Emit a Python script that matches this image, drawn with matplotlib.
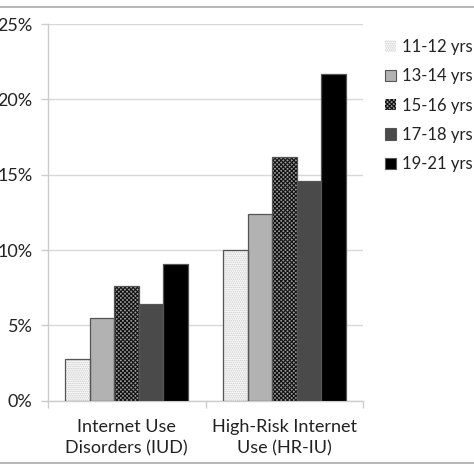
import numpy as np
import matplotlib
matplotlib.use("Agg")
import matplotlib.pyplot as plt
from matplotlib.lines import Line2D
from matplotlib.patches import Patch

categories = ["Internet Use\nDisorders (IUD)", "High-Risk Internet\nUse (HR-IU)"]
age_groups = ["11-12 yrs", "13-14 yrs", "15-16 yrs", "17-18 yrs", "19-21 yrs"]
v_11_12 = [2.8, 10.0]
v_13_14 = [5.5, 12.4]
v_15_16 = [7.6, 16.2]
v_17_18 = [6.4, 14.6]
v_19_21 = [9.1, 21.7]
yticks = [0, 5, 10, 15, 20, 25]

series = [v_11_12, v_13_14, v_15_16, v_17_18, v_19_21]
# face, hatch, hatch colour
styles = [
    ("white", "........", "#c4c4c4"),
    ("#b2b2b2", None, None),
    ("#9a9a9a", "xxxxxxxx", "#111111"),
    ("#4a4a4a", None, None),
    ("black", None, None),
]

plt.rcParams["font.family"] = ["Lato", "DejaVu Sans"]
plt.rcParams["hatch.linewidth"] = 0.8

fig = plt.figure(figsize=(4.74, 4.74), dpi=100)
ax = fig.add_axes([0.1006, 0.1546, 0.666, 0.7944])

x = np.arange(len(categories))
w = 0.155
for i, vals in enumerate(series):
    face, hatch, hc = styles[i]
    pos = x + (i - 2) * w
    if hatch:
        ax.bar(pos, vals, w, color=face, edgecolor=hc, hatch=hatch, linewidth=0, zorder=3)
        ax.bar(pos, vals, w, fill=False, edgecolor="#555555", linewidth=0.9, zorder=4)
    else:
        ax.bar(pos, vals, w, color=face, edgecolor="#555555", linewidth=0.9, zorder=3)

ax.set_xlim(-0.5, 1.5)
ax.set_ylim(0, 25)
ax.set_yticks(yticks)
ax.set_yticklabels([f"{t}%" for t in yticks], fontsize=13, color="#222222")
ax.set_xticks(x)
ax.set_xticklabels(categories, fontsize=13, color="#222222", linespacing=1.45)
ax.set_xticks([-0.5, 0.5, 1.5], minor=True)
ax.tick_params(axis="x", which="major", length=0, pad=13)
ax.tick_params(axis="x", which="minor", length=5, color="#cccccc", width=1)
ax.tick_params(axis="y", length=5, color="#cccccc", width=1, pad=6)
ax.yaxis.grid(True, color="#d9d9d9", linewidth=1, zorder=0)
ax.set_axisbelow(True)
for s in ["top", "right"]:
    ax.spines[s].set_visible(False)
for s in ["left", "bottom"]:
    ax.spines[s].set_color("#cccccc")
    ax.spines[s].set_linewidth(1)

handles = []
for i, lab in enumerate(age_groups):
    face, hatch, hc = styles[i]
    if hatch:
        handles.append(Patch(facecolor=face, edgecolor=hc, hatch=hatch, linewidth=0, label=lab))
    else:
        handles.append(Patch(facecolor=face, edgecolor="#555555", linewidth=0.8, label=lab))
fig.legend(handles=handles, loc="upper left", bbox_to_anchor=(0.812, 0.918),
           frameon=False, fontsize=12, handlelength=0.65, handleheight=0.65,
           handletextpad=0.4, labelspacing=0.8, labelcolor="#222222",
           borderaxespad=0, borderpad=0)

fig.add_artist(Line2D([0, 1], [1 - 7 / 474, 1 - 7 / 474], color="#aaaaaa", linewidth=1.2))
fig.add_artist(Line2D([0, 1], [1 - 463 / 474, 1 - 463 / 474], color="#aaaaaa", linewidth=1.2))

fig.savefig("out.png", dpi=100)
